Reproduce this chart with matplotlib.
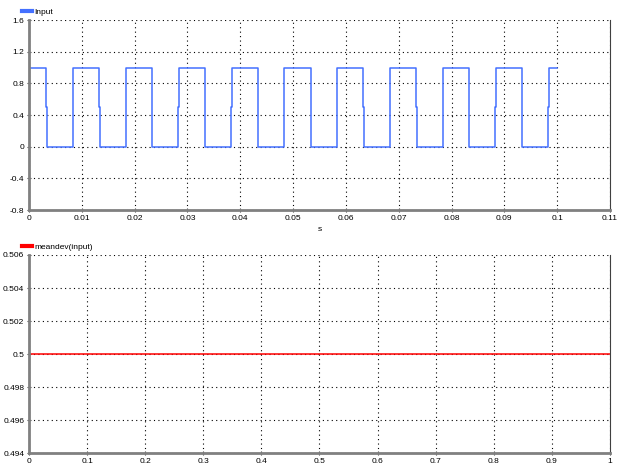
import matplotlib.pyplot as plt
import numpy as np

plt.rcParams['font.family'] = ['Liberation Sans', 'DejaVu Sans']
plt.rcParams['font.size'] = 6

# square wave (edge times in s)
fall_times = [0.0033, 0.0133, 0.0233, 0.0333, 0.0433, 0.0533, 0.0633, 0.0733, 0.0833, 0.0933]
rise_times = [0.0083, 0.0183, 0.0283, 0.0383, 0.0483, 0.0583, 0.0683, 0.0783, 0.0883, 0.0983]
t_end = 0.0999
high, low = 1.0, 0.0

# second plot
mean_x = [0.0, 1.0]
mean_y = [0.5, 0.5]

# build the step trace from the edges
t, y = [0.0], [high]
jog = 0.00007
for k, tf in enumerate(fall_times):
    t += [tf, tf, tf + jog, tf + jog]
    y += [high, 0.5, 0.5, low]
    tr = rise_times[k]
    t += [tr, tr, tr + jog, tr + jog]
    y += [low, 0.5, 0.5, high]
t.append(t_end)
y.append(high)

fig = plt.figure(figsize=(6.24, 4.71), dpi=100)
ax1 = fig.add_axes([0.0465, 0.5541, 0.931, 0.4034])
ax2 = fig.add_axes([0.0465, 0.0382, 0.931, 0.4204])


def style(ax):
    ax.grid(True, color='black', linestyle=(0, (1, 3)), linewidth=0.8)
    ax.spines['top'].set_visible(False)
    ax.spines['left'].set_color('#808080')
    ax.spines['left'].set_linewidth(2)
    ax.spines['bottom'].set_color('#808080')
    ax.spines['bottom'].set_linewidth(2)
    ax.spines['right'].set_color('#404040')
    ax.spines['right'].set_linewidth(0.8)
    ax.tick_params(direction='inout', length=3, width=0.8, color='#404040', pad=2)


ax1.plot(t, y, color='#4470ff', linewidth=1.1, label='Input')
ax1.set_xlim(0, 0.11)
ax1.set_ylim(-0.8, 1.6)
ax1.set_xticks(np.arange(0, 0.111, 0.01))
ax1.set_xticklabels(['0', '0.01', '0.02', '0.03', '0.04', '0.05', '0.06', '0.07', '0.08', '0.09', '0.1', '0.11'])
ax1.set_yticks([-0.8, -0.4, 0, 0.4, 0.8, 1.2, 1.6])
ax1.set_yticklabels(['-0.8', '-0.4', '0', '0.4', '0.8', '1.2', '1.6'])
ax1.set_xlabel('s', labelpad=3)
style(ax1)
ax1.legend(loc='lower left', bbox_to_anchor=(-0.02, 1.0), frameon=False, handlelength=1.2,
           handletextpad=0.3, borderaxespad=0.1)
for ln in ax1.get_legend().get_lines():
    ln.set_linewidth(3)

ax2.plot(mean_x, mean_y, color='#ff0000', linewidth=1.1, label='meandev(input)')
ax2.set_xlim(0, 1)
ax2.set_ylim(0.494, 0.506)
ax2.set_xticks(np.arange(0, 1.01, 0.1))
ax2.set_xticklabels(['0', '0.1', '0.2', '0.3', '0.4', '0.5', '0.6', '0.7', '0.8', '0.9', '1'])
ax2.set_yticks([0.494, 0.496, 0.498, 0.5, 0.502, 0.504, 0.506])
ax2.set_yticklabels(['0.494', '0.496', '0.498', '0.5', '0.502', '0.504', '0.506'])
style(ax2)
ax2.legend(loc='lower left', bbox_to_anchor=(-0.02, 1.0), frameon=False, handlelength=1.2,
           handletextpad=0.3, borderaxespad=0.1)
for ln in ax2.get_legend().get_lines():
    ln.set_linewidth(3)

fig.savefig('out.png', dpi=100)
